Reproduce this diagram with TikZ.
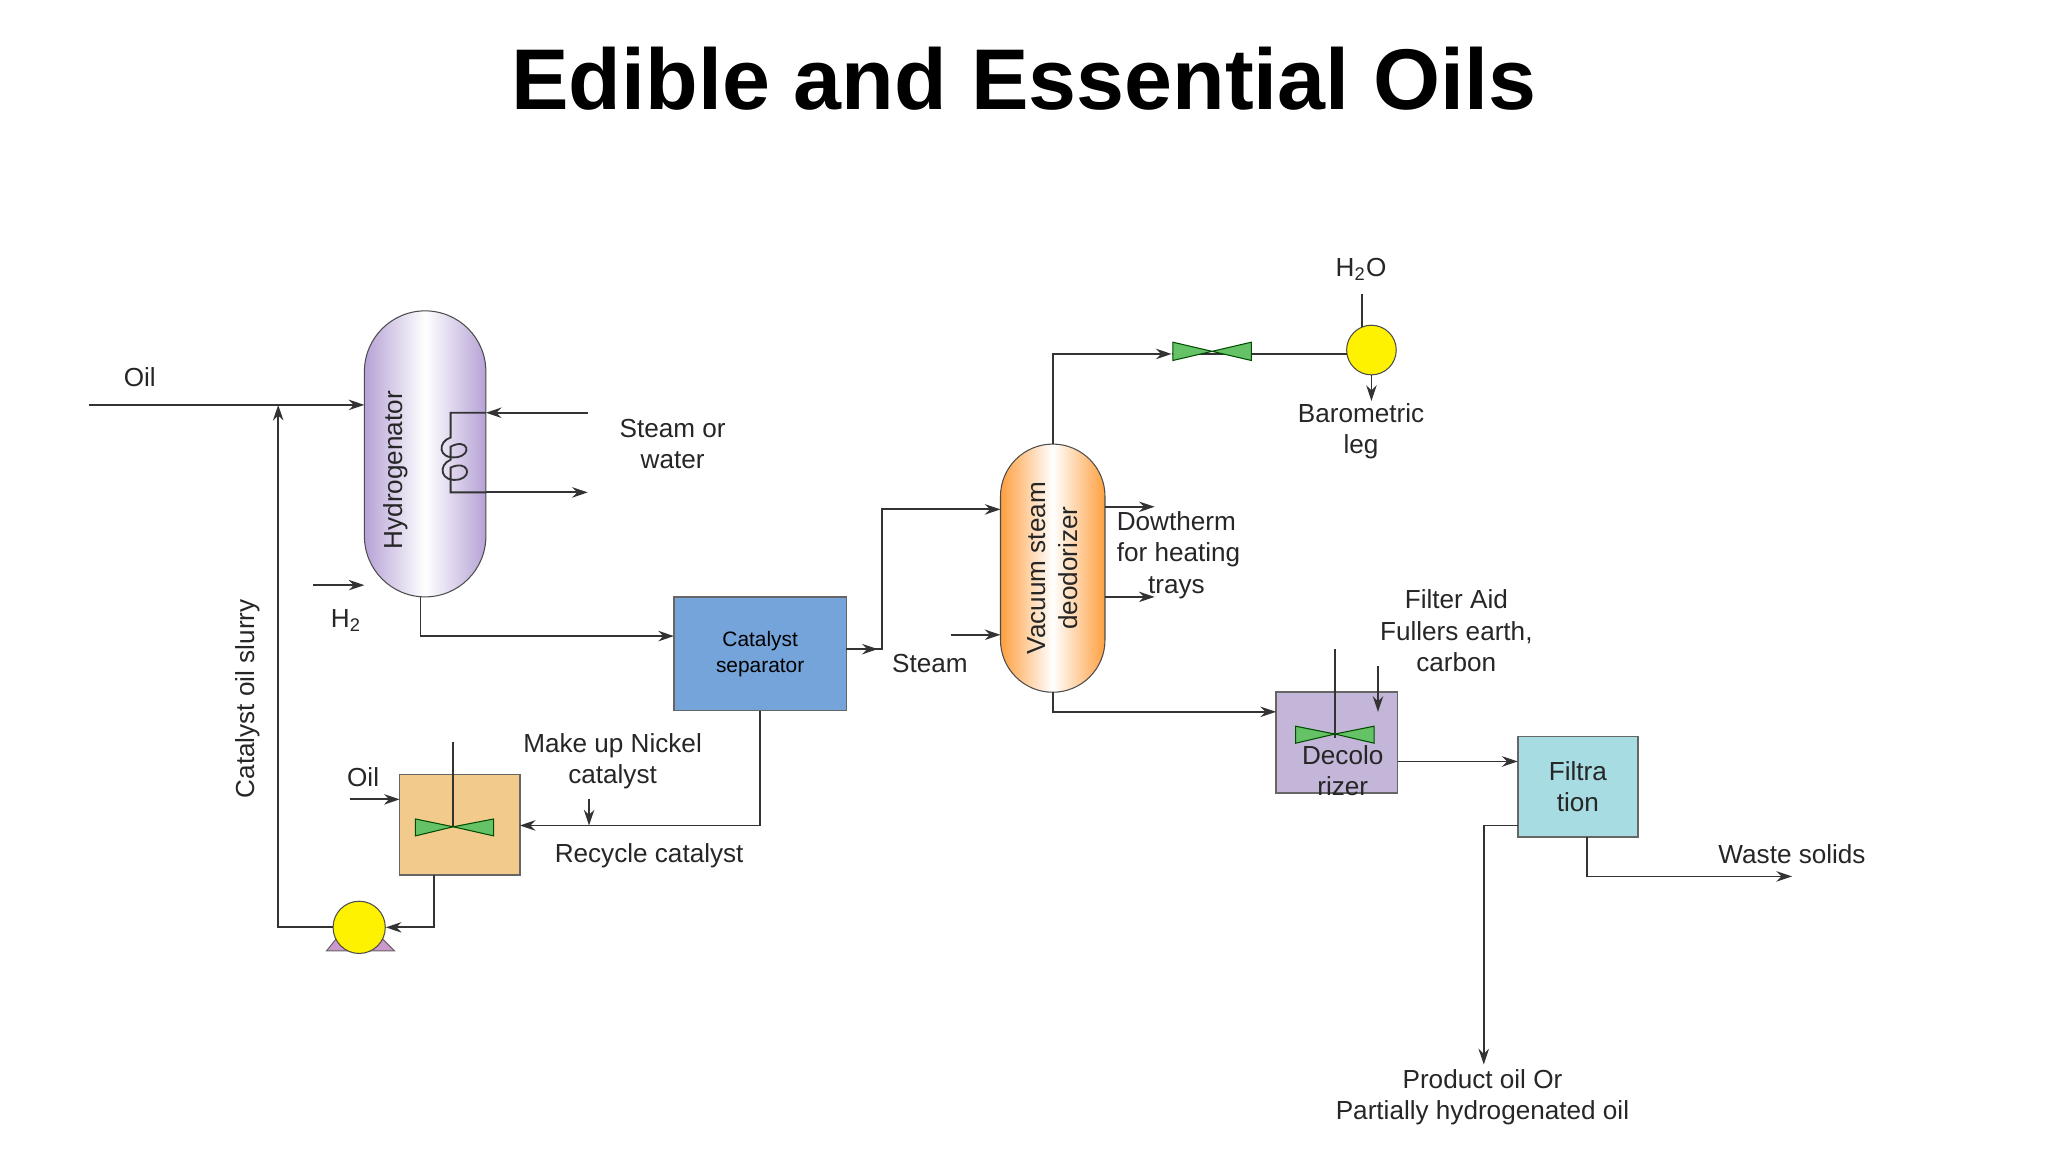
\documentclass[tikz,border=0pt]{standalone}
\usepackage{fontspec}
\setmainfont{Liberation Sans}
\usetikzlibrary{arrows.meta}
\definecolor{sepblue}{HTML}{74A4DA}
\definecolor{mixtan}{HTML}{F2CB8C}
\definecolor{hydpur}{HTML}{B6A2D6}
\definecolor{declav}{HTML}{C3B6D8}
\definecolor{filcyan}{HTML}{A6DCE2}
\begin{document}
\begin{tikzpicture}[x=0.5pt,y=-0.5pt,
  line/.style={draw=black!80,line width=0.7pt},
  arr/.style={line,-{Stealth[length=6pt,width=4pt]}},
  lab/.style={font=\fontsize{10}{12}\selectfont,align=center,text=black!85},
  box/.style={draw=black!60,line width=0.6pt},
  blade/.style={fill=green!60!black!60,draw=green!30!black,line width=0.4pt}]
\useasboundingbox (0,0) rectangle (1568,882);
\fill[white] (0,0) rectangle (1568,882);
\node (title) at (784,60) {\fontsize{33}{36}\selectfont\bfseries Edible and Essential Oils};
% Hydrogenator
\shade[left color=hydpur,right color=hydpur,middle color=white,draw=black!70,rounded corners=23.25pt]
  (279,238) rectangle (372,457);
\node[lab,rotate=90] (hydt) at (303,360) {Hydrogenator};
% Oil in
\coordinate (oilin) at (68,310);
\coordinate (hydin) at (279,310);
\draw[arr] (oilin) -- (hydin);
\node[lab] (oil1) at (107,289) {Oil};
% Steam coil
\coordinate (st1) at (450,316); \coordinate (st2) at (372,316);
\draw[arr] (st1) -- (st2);
\draw[line] (st2) -- (345,316) -- (345,335) .. controls (335,338) and (335,352) .. (350,350)
  .. controls (362,348) and (358,335) .. (345,342) -- (345,352) .. controls (335,356) and (337,370) .. (352,367)
  .. controls (362,364) and (358,352) .. (345,358) -- (345,377) -- (372,377);
\coordinate (st3) at (372,377); \coordinate (st4) at (450,377);
\draw[arr] (st3) -- (st4);
\node[lab] (stw) at (515,340) {Steam or\\water};
% H2
\coordinate (h2a) at (240,448); \coordinate (h2b) at (279,448);
\draw[arr] (h2a) -- (h2b);
\node[lab] (h2) at (265,475) {H\textsubscript{2}};
% Catalyst separator
\node[box,fill=sepblue,minimum width=66pt,minimum height=43.5pt,font=\fontsize{8}{10}\selectfont,align=center] (sep) at (582,500.5) {Catalyst\\separator};
\draw[arr] (322,457) -- (322,487) -- (516,487);
% Mixer
\node[box,fill=mixtan,minimum width=46pt,minimum height=38.5pt] (mix) at (352,631.5) {};
\draw[line] (347,568) -- (347,633);
\fill[blade] (318,627) -- (347,633) -- (318,640) -- cycle;
\fill[blade] (378,627) -- (347,633) -- (378,640) -- cycle;
\draw[arr] (268,612) -- (306,612);
\node[lab] (oil2) at (278,595) {Oil};
\node[lab] (mk) at (469,583) {Make up Nickel\\catalyst};
\draw[arr] (451,612) -- (451,632);
\draw[arr] (sep.south) -- (582,632) -- (398,632);
\node[lab] (rc) at (497,655) {Recycle catalyst};
% Pump
\fill[violet!40,draw=black!60] (250,728) -- (258,718) -- (292,718) -- (302,728) -- cycle;
\node[circle,fill=yellow,draw=black!70,minimum size=20pt,inner sep=0pt] (pump) at (275,710) {};
\draw[arr] (332,670) -- (332,710) -- (pump.east);
\draw[arr] (pump.west) -- (213,710) -- (213,310);
\node[lab,rotate=90] (cos) at (190,535) {Catalyst oil slurry};
% Deodorizer
\shade[left color=orange!75,right color=orange!75,middle color=white,draw=black!70,rounded corners=20pt]
  (766,340) rectangle (846,530);
\node[lab,rotate=90] (deo) at (806,435) {Vacuum steam\\deodorizer};
\draw[arr] (648,497) -- (675,497) -- (675,390) -- (766,390);
\draw[arr] (648,497) -- (672,497);
\node[lab] (steam) at (712,508) {Steam};
\draw[arr] (728,486) -- (766,486);
\draw[arr] (846,388) -- (884,388);
\draw[arr] (846,457) -- (884,457);
\node[lab,align=left,anchor=west] (dow) at (848,425) {Dowtherm\\for heating\\\hspace*{1.2em}trays};
% top
\node[circle,fill=yellow,draw=black!70,minimum size=19pt,inner sep=0pt] (bar) at (1050,268) {};
\draw[arr] (806,340) -- (806,271) -- (897,271);
\draw[line] (897,271) -- (1031,271);
\fill[blade] (898,262) -- (928,269) -- (898,276) -- cycle;
\fill[blade] (958,262) -- (928,269) -- (958,276) -- cycle;
\draw[line] (1043,225) -- (1043,250);
\node[lab] (h2o) at (1042,206) {H\textsubscript{2}O};
\draw[arr] (bar.south) -- (1050,307);
\node[lab] (bl) at (1042,330) {Barometric\\leg};
% Decolorizer
\node[box,fill=declav,minimum width=46.5pt,minimum height=38.5pt] (dec) at (1023.5,568.5) {};
\draw[line] (1022,497) -- (1022,565);
\fill[blade] (992,556) -- (1022,562) -- (992,569) -- cycle;
\fill[blade] (1052,556) -- (1022,562) -- (1052,569) -- cycle;
\node[lab] (dect) at (1028,590) {Decolo\\rizer};
\draw[arr] (1055,510) -- (1055,545);
\node[lab] (fa) at (1115,483) {Filter Aid\\Fullers earth,\\carbon};
\draw[arr] (806,530) -- (806,545) -- (977,545);
% Filtration
\node[box,fill=filcyan,minimum width=46pt,minimum height=38.5pt,lab] (fil) at (1208,602.5) {Filtra\\tion};
\draw[arr] (1070,583) -- (1162,583);
\draw[arr] (1215,641) -- (1215,671) -- (1372,671);
\node[lab] (ws) at (1372,654) {Waste solids};
\draw[arr] (1162,632) -- (1136,632) -- (1136,815);
\node[lab] (po) at (1135,840) {Product oil Or\\Partially hydrogenated oil};
\end{tikzpicture}
\end{document}
